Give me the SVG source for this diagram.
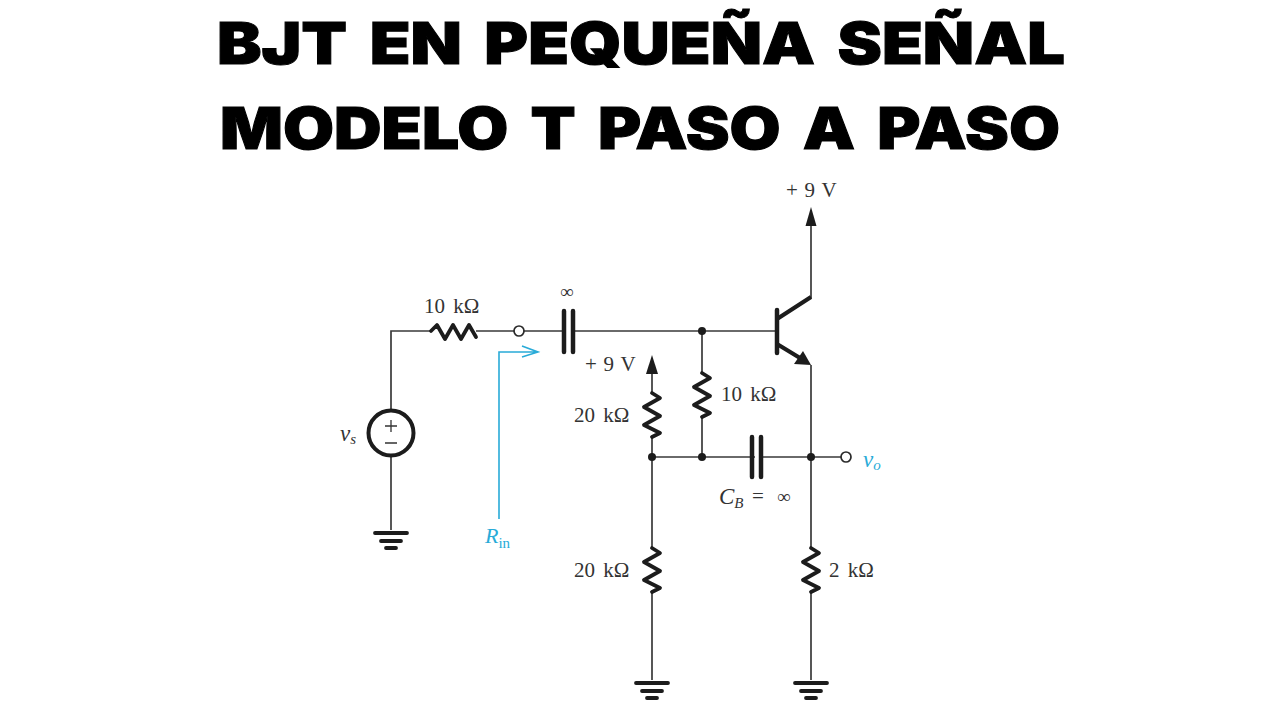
<svg xmlns="http://www.w3.org/2000/svg" width="1280" height="720" viewBox="0 0 1280 720">
<style>
.title{font-family:"Inter","Liberation Sans",sans-serif;font-weight:900;font-size:58px;fill:#000;text-anchor:middle;stroke:#000;stroke-width:1px;word-spacing:8px}
.w{fill:none;stroke:#3a3a3a;stroke-width:1.7}
.r{fill:none;stroke:#1c1c1c;stroke-width:3.8;stroke-linejoin:round;stroke-linecap:round}
.p{fill:none;stroke:#1c1c1c;stroke-width:4.500;stroke-linecap:round}
.g{fill:none;stroke:#1c1c1c;stroke-width:3.800;stroke-linecap:round}
.d{fill:#1c1c1c}
.o{fill:#fff;stroke:#2a2a2a;stroke-width:1.7}
.t{font-family:"Liberation Serif",serif;font-size:21px;fill:#333;word-spacing:3px}
.i{font-style:italic}
.b{fill:#29abd8}
.bl{fill:none;stroke:#29abd8;stroke-width:1.6}
</style>
<defs>
<g id="gnd"><path class="g" d="M-16 0H16M-10 8H10M-5 15H5"/></g>
<path id="rv" class="r" d="M0 -22L8 -17L-8 -8L8 1L-8 10L8 18L0 22"/>
</defs>
<text class="title" x="641" y="64" textLength="848" lengthAdjust="spacingAndGlyphs">BJT EN PEQUEÑA SEÑAL</text>
<text class="title" x="640" y="149" textLength="840" lengthAdjust="spacingAndGlyphs">MODELO T PASO A PASO</text>
<g id="connectors">
<path class="w" d="M391 409V331H431M476 331H515M523 331H564M573 331H776"/>
<path class="w" d="M391 457V530"/>
<path class="w" d="M702 331V373M702 417V457"/>
<path class="w" d="M652 370V392M652 438V548M652 592V680"/>
<path class="w" d="M652 457H755M763 457H842"/>
<path class="w" d="M811 298V225M811 365V548M811 592V680"/>
<path class="bl" d="M499 519V352H538M522 346L538 352L522 357"/>
</g>
<g id="vs"><circle cx="391" cy="433" r="22.500" fill="#fff" stroke="#1c1c1c" stroke-width="4"/><path d="M385 426H397M391 420V432M385 443H397" fill="none" stroke="#333" stroke-width="1.300"/></g>
<g id="gnd1"><use href="#gnd" x="391" y="533"/></g>
<g id="gnd2"><use href="#gnd" x="652" y="683"/></g>
<g id="gnd3"><use href="#gnd" x="811" y="683"/></g>
<g id="r-source"><path class="r" d="M431 331L437 325L445 339L453 325L461 339L469 325L476 337"/></g>
<g id="r-top"><use href="#rv" x="652" y="415"/></g>
<g id="r-fb"><use href="#rv" x="702" y="395"/></g>
<g id="r-bottom"><use href="#rv" x="652" y="570"/></g>
<g id="r-emitter"><use href="#rv" x="811" y="570"/></g>
<g id="c-in"><path class="p" d="M564 311V352M573 311V352"/></g>
<g id="c-b"><path class="p" d="M752 437V477M761 437V477"/></g>
<g id="bjt">
<path class="p" d="M777 310V353"/>
<path fill="none" stroke="#1c1c1c" stroke-width="4.200" d="M777 319L811 297M777 344L800 358"/>
<path class="d" d="M811 365L794 364L803 351Z"/>
</g>
<g id="arrow-top"><path class="d" d="M811 207L816.500 226H805.500Z"/></g>
<g id="arrow-mid"><path class="d" d="M652 355L658 374H646Z"/></g>
<g id="dots">
<circle class="d" cx="702" cy="331" r="4"/><circle class="d" cx="652" cy="457" r="4"/><circle class="d" cx="702" cy="457" r="4"/><circle class="d" cx="811" cy="457" r="4"/>
</g>
<g id="terminals"><circle class="o" cx="519" cy="331" r="5"/><circle class="o" cx="846" cy="457" r="5"/></g>
<g id="labels">
<text class="t" x="424" y="313">10 kΩ</text>
<text class="t" x="560" y="298" style="font-size:19px">∞</text>
<text class="t" x="786" y="197" style="word-spacing:1.500px">+ 9 V</text>
<text class="t" x="585" y="371" style="word-spacing:1.500px">+ 9 V</text>
<text class="t" x="574" y="422">20 kΩ</text>
<text class="t" x="721" y="401">10 kΩ</text>
<text class="t" x="574" y="577">20 kΩ</text>
<text class="t" x="829" y="577">2 kΩ</text>
<text class="t i" x="340" y="441" style="font-size:23px">v<tspan style="font-size:15px" dy="3">s</tspan></text>
<text class="t i" x="719" y="504" style="font-size:23px">C<tspan style="font-size:15px" dy="4">B</tspan></text>
<text class="t" x="752" y="503">=</text>
<text class="t" x="777" y="503" style="font-size:19px">∞</text>
<text class="t i b" x="863" y="467" style="font-size:23px">v<tspan style="font-size:15px" dy="3">o</tspan></text>
<text class="t i b" x="485" y="543" style="font-size:22px">R<tspan style="font-size:15px;font-style:normal" dy="5">in</tspan></text>
</g>
</svg>
